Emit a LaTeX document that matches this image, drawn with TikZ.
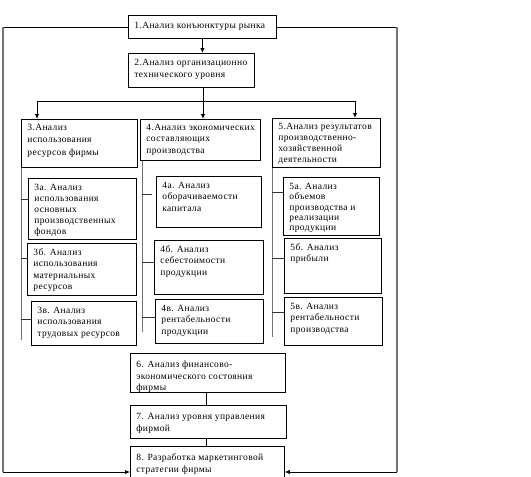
\documentclass[tikz,border=0pt]{standalone}
\usepackage{fontspec}
\setmainfont{Liberation Serif}[LetterSpace=4]
\usetikzlibrary{arrows.meta}
\tikzset{
  bxs/.style={draw=black, line width=0.8pt, inner sep=0pt, anchor=north west},
  arr/.style={draw=black, line width=0.9pt, -{Latex[length=5pt,width=4.5pt]}},
  cline/.style={draw=black, line width=0.9pt},
  loopv/.style={draw=black!55, line width=1.4pt},
  branch/.style={draw=black!55, line width=1pt},
  tick/.style={draw=black!80, line width=0.7pt},
}
\def\bxtop{11.5}
\newcommand\bx[7][11.5]{%
  \node[bxs, minimum width={(#5-#3)*1pt}, minimum height={(#6-#4)*1pt}] (#2) at (#3,#4)
  {\parbox[c][\dimexpr #6pt-#4pt\relax][t]{\dimexpr #5pt-#3pt\relax}{%
    \fontsize{9.5}{#1}\selectfont\raggedright\leftskip=6pt\relax
    \rule{0pt}{\bxtop pt}#7}};}
\begin{document}
\begin{tikzpicture}[x=1pt,y=-1pt]
\useasboundingbox (0,0) rectangle (531,477);
\clip (0,0) rectangle (531,477);
% main boxes
\def\bxtop{13.5}
\bx{b1}{128}{15}{276}{38}{1.Анализ конъюнктуры рынка}
\def\bxtop{12.5}
\bx{b2}{128}{53}{254}{87}{2.Анализ организационно\\технического уровня}
\def\bxtop{11}
\bx[12.5]{b3}{21}{119}{137}{167}{3.Анализ\\использования\\ресурсов фирмы}
\bx{b4}{140}{119}{260}{160}{4.Анализ экономических\\составляющих\\производства}
\bx[11]{b5}{272}{118}{380}{167}{5.Анализ результатов\\производственно-\\хозяйственной\\деятельности}
% sub boxes
\def\bxtop{12}
\bx[11]{b3a}{28}{178}{136}{239}{3а. Анализ\\использования\\основных\\производственных\\фондов}
\bx{b3b}{27}{243}{136}{295}{3б. Анализ\\использования\\материальных\\ресурсов}
\bx{b3c}{31}{301}{136}{345}{3в. Анализ\\использования\\трудовых ресурсов}
\bx{b4a}{156}{176}{261}{227}{4а. Анализ\\оборачиваемости\\капитала}
\bx{b4b}{154}{240}{263}{294}{4б. Анализ\\себестоимости\\продукции}
\bx{b4c}{155}{299}{263}{343}{4в. Анализ\\рентабельности\\продукции}
\bx[10.3]{b5a}{283}{177}{379}{235}{5а. Анализ\\объемов\\производства и\\реализации\\продукции}
\bx{b5b}{284}{238}{381}{293}{5б. Анализ\\прибыли}
\bx{b5c}{284}{297}{382}{345}{5в. Анализ\\рентабельности\\производства}
% bottom boxes
\def\bxtop{14.5}
\bx{b6}{130}{353}{285}{392}{6. Анализ финансово-\\экономического состояния\\фирмы}
\bx{b7}{130}{405}{286}{438}{7. Анализ уровня управления\\фирмой}
\bx{b8}{130}{446}{284}{498}{8. Разработка маркетинговой\\стратегии фирмы}
% connectors top
\draw[arr] (b1.south) -- (b1.south |- b2.north);
\coordinate (J) at (203,101);
\coordinate (JL) at (37,101);
\coordinate (JR) at (355,101);
\draw[cline] (b2.south -| J) -- (J);
\draw[cline] (JL) -- (JR);
\draw[arr] (JL) -- (JL |- b3.north);
\draw[arr] (J) -- (J |- b4.north);
\draw[arr] (JR) -- (JR |- b5.north);
% branch lines
\coordinate (E3) at (21,340);
\coordinate (E4) at (142,332);
\coordinate (E5) at (272,337);
\draw[branch] (b3.south west) -- (E3);
\draw[branch] (b4.south west -| E4) -- (E4);
\draw[branch] (b5.south west) -- (E5);
\draw[tick] (21,199) -- (b3a.west |- 0,199);
\draw[tick] (21,258) -- (b3b.west |- 0,258);
\draw[tick] (21,319) -- (b3c.west |- 0,319);
\draw[tick] (142,194) -- (152,194);
\draw[tick] (142,262) -- (b4b.west |- 0,262);
\draw[tick] (142,317) -- (b4c.west |- 0,317);
\draw[tick] (272,192) -- (b5a.west |- 0,192);
\draw[tick] (272,258) -- (b5b.west |- 0,258);
\draw[tick] (272,312) -- (b5c.west |- 0,312);
% bottom chain
\draw[cline, line width=0.7pt] (b6.south -| 206,0) -- (b7.north -| 206,0);
\draw[cline, line width=0.7pt] (b7.south -| 206,0) -- (b8.north -| 206,0);
% loops
\coordinate (LT) at (3,27);
\coordinate (LB) at (3,472);
\coordinate (RT) at (397,27);
\coordinate (RB) at (397,472);
\draw[cline] (b1.west |- LT) -- (LT);
\draw[loopv] (LT) -- (LB);
\draw[arr] (LB) -- (b8.west |- LB);
\draw[cline] (b1.east |- RT) -- (RT);
\draw[loopv] (RT) -- (RB);
\draw[arr] (RB) -- (b8.east |- RB);
\end{tikzpicture}
\end{document}
